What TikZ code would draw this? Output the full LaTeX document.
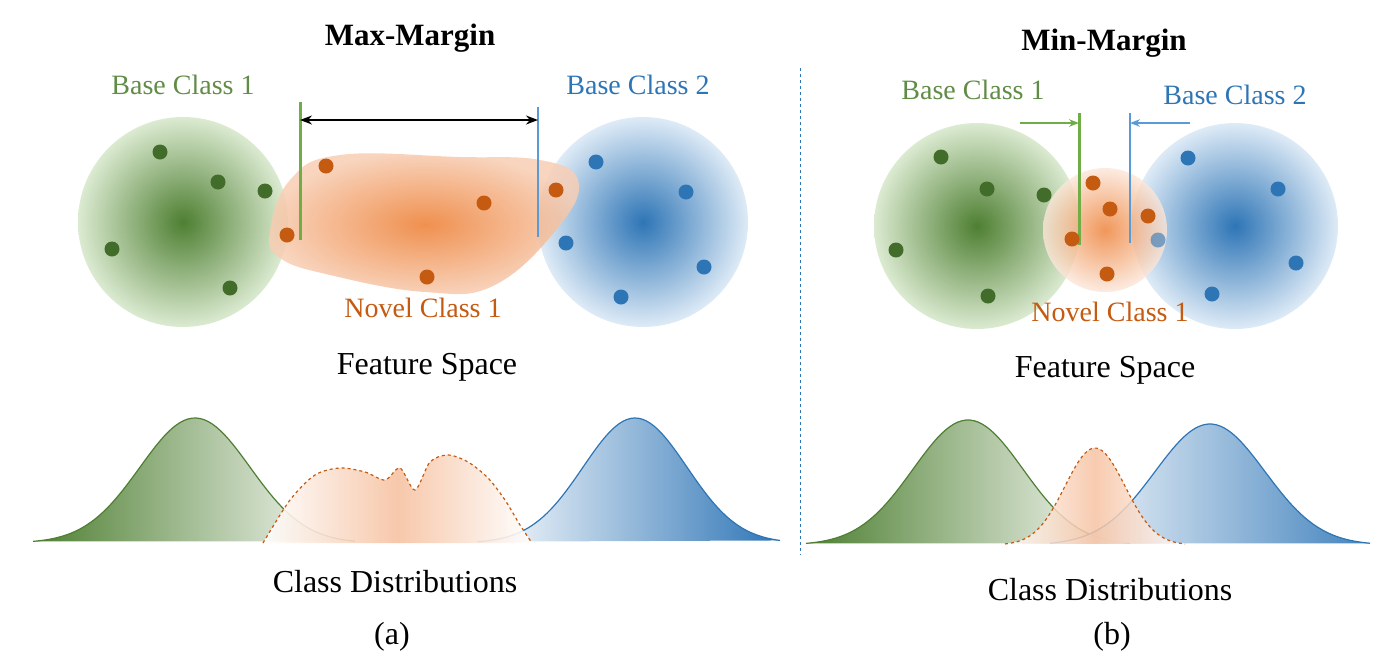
\documentclass[tikz,border=0pt]{standalone}
\usepackage{fontspec}
\setmainfont{Liberation Serif}
\usetikzlibrary{arrows.meta}
\definecolor{gD}{HTML}{4E7F32}
\definecolor{gL}{HTML}{70AD47}
\definecolor{bD}{HTML}{2E75B6}
\definecolor{bL}{HTML}{5B9BD5}
\definecolor{oD}{HTML}{ED7D31}
\definecolor{oT}{HTML}{C55A11}
\definecolor{oL}{HTML}{F6C2A2}
\tikzset{
 lbl/.style={font=\fontsize{28}{32}\selectfont},
 big/.style={font=\fontsize{32}{36}\selectfont},
 ttl/.style={font=\fontsize{31}{35}\selectfont\bfseries},
 gdot/.style={fill=gD!85!black},
 bdot/.style={fill=bD},
 odot/.style={fill=oT},
}
\newcommand{\dt}[3]{\fill[#1] (#2,#3) circle (7.5);}
\begin{document}
\begin{tikzpicture}[x=1pt,y=-1pt]
\useasboundingbox (0,0) rectangle (1390,665);
% ---------- left
\node[ttl] (t1) at (410,38) {Max-Margin};
\shade[inner color=gD, outer color=gL!25] (183,222) circle (105);
\shade[inner color=bD, outer color=bL!20] (643,222) circle (105);
\shade[inner color=oD, outer color=oL!80, opacity=0.85]
  plot[smooth cycle, tension=0.7] coordinates {(270,232)(290,180)(340,155)(460,157)(540,160)(578,180)(560,225)(495,285)(425,292)(330,275)(280,258)};
\node[lbl, text=gD!90] (bc1) at (183,85) {Base Class 1};
\node[lbl, text=bD] (bc2) at (638,85) {Base Class 2};
\coordinate (ga) at (300,102); \coordinate (gb) at (300,240);
\coordinate (ba) at (538,107); \coordinate (bb) at (538,237);
\draw[gL, line width=3] (ga) -- (gb);
\draw[bL, line width=2] (ba) -- (bb);
\coordinate (a1) at (300,120); \coordinate (a2) at (538,120);
\draw[{Stealth[length=12pt]}-{Stealth[length=12pt]}, line width=1.5] (a1) -- (a2);
\dt{gdot}{160}{152}\dt{gdot}{218}{182}\dt{gdot}{265}{191}\dt{gdot}{112}{249}\dt{gdot}{230}{288}
\dt{odot}{326}{166}\dt{odot}{484}{203}\dt{odot}{287}{235}\dt{odot}{427}{277}\dt{odot}{556}{190}
\dt{bdot}{596}{162}\dt{bdot}{686}{192}\dt{bdot}{566}{243}\dt{bdot}{704}{267}\dt{bdot}{621}{297}
\node[lbl, text=oT] (nc1) at (423,308) {Novel Class 1};
\node[big] (fs1) at (427,367) {Feature Space};
% distributions left
\shade[left color=gD, right color=white] plot[domain=33:355,samples=80] (\x,{543-125*exp(-((\x-195)/55)^2/2)}) -- cycle;
\draw[gD, line width=1.2] plot[domain=33:355,samples=80] (\x,{543-125*exp(-((\x-195)/55)^2/2)});
\shade[left color=white, right color=bD] plot[domain=478:780,samples=80] (\x,{543-125*exp(-((\x-635)/52)^2/2)}) -- cycle;
\draw[bD, line width=1.2] plot[domain=478:780,samples=80] (\x,{543-125*exp(-((\x-635)/52)^2/2)});
\shade[left color=white, right color=white, middle color=oL, opacity=0.9] plot[smooth] coordinates {(263,543)(290,500)(315,475)(340,468)(365,472)(385,480)(400,468)(415,490)(430,462)(448,455)(468,462)(488,478)(505,500)(520,525)(532,543)} -- cycle;
\draw[oT, dashed, line width=1.2] plot[smooth] coordinates {(263,543)(290,500)(315,475)(340,468)(365,472)(385,480)(400,468)(415,490)(430,462)(448,455)(468,462)(488,478)(505,500)(520,525)(532,543)};
\node[big] (cd1) at (395,582) {Class Distributions};
\node[big] (la) at (392,637) {(a)};
% divider
\coordinate (d1) at (800,68); \coordinate (d2) at (800,555);
\draw[bD, dashed, line width=0.8] (d1) -- (d2);
% ---------- right
\node[ttl] (t2) at (1104,43) {Min-Margin};
\shade[inner color=gD, outer color=gL!25] (977,226) circle (103);
\shade[inner color=bD, outer color=bL!20] (1235,226) circle (103);
\shade[inner color=oD, outer color=oL!40, opacity=0.8] (1105,230) circle (62);
\node[lbl, text=gD!90] (bc3) at (973,90) {Base Class 1};
\node[lbl, text=bD] (bc4) at (1235,95) {Base Class 2};
\coordinate (g2a) at (1079,113); \coordinate (g2b) at (1079,245);
\coordinate (b2a) at (1130,113); \coordinate (b2b) at (1130,243);
\draw[gL, line width=3] (g2a) -- (g2b);
\draw[bL, line width=2] (b2a) -- (b2b);
\coordinate (ga3) at (1020,123); \coordinate (ga4) at (1079,123);
\coordinate (ba3) at (1190,123); \coordinate (ba4) at (1130,123);
\draw[gL, -{Stealth[length=10pt]}, line width=1.5] (ga3) -- (ga4);
\draw[bL, -{Stealth[length=10pt]}, line width=1.5] (ba3) -- (ba4);
\dt{gdot}{941}{157}\dt{gdot}{987}{189}\dt{gdot}{1044}{195}\dt{gdot}{896}{250}\dt{gdot}{988}{296}
\dt{odot}{1093}{183}\dt{odot}{1110}{209}\dt{odot}{1148}{216}\dt{odot}{1072}{239}\dt{odot}{1107}{274}
\dt{bdot}{1188}{158}\dt{bdot}{1278}{189}\dt{bdot}{1296}{263}\dt{bdot}{1212}{294}
\fill[bD, opacity=0.6] (1158,240) circle (7.5);
\node[lbl, text=oT] (nc2) at (1110,312) {Novel Class 1};
\node[big] (fs2) at (1105,370) {Feature Space};
% distributions right
\shade[left color=gD, right color=white] plot[domain=806:1130,samples=80] (\x,{545-125*exp(-((\x-968)/55)^2/2)}) -- cycle;
\draw[gD, line width=1.2] plot[domain=806:1130,samples=80] (\x,{545-125*exp(-((\x-968)/55)^2/2)});
\shade[left color=white, right color=bD, opacity=0.9] plot[domain=1050:1370,samples=80] (\x,{545-121*exp(-((\x-1210)/55)^2/2)}) -- cycle;
\draw[bD, line width=1.2] plot[domain=1050:1370,samples=80] (\x,{545-121*exp(-((\x-1210)/55)^2/2)});
\shade[left color=white, right color=white, middle color=oL, opacity=0.85] plot[domain=1005:1185,samples=60] (\x,{545-97*exp(-((\x-1095)/30)^2/2)}) -- cycle;
\draw[oT, dashed, line width=1.2] plot[domain=1005:1185,samples=60] (\x,{545-97*exp(-((\x-1095)/30)^2/2)});
\node[big] (cd2) at (1110,590) {Class Distributions};
\node[big] (lb) at (1112,637) {(b)};
\end{tikzpicture}
\end{document}
